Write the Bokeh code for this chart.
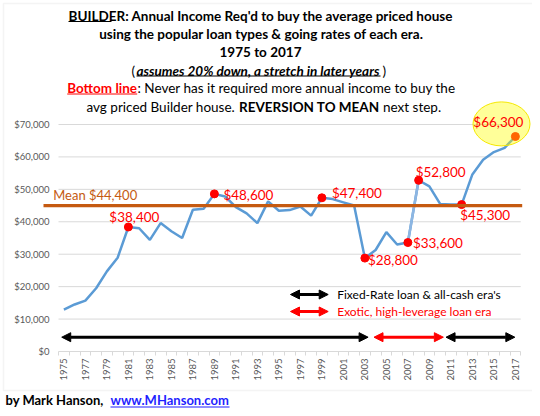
import numpy as np
from bokeh.plotting import figure
from bokeh.models import (Label, FixedTicker, NumeralTickFormatter, Arrow,
                          NormalHead, BoxAnnotation)
from bokeh.embed import file_html
from bokeh.resources import INLINE

# ---------------- data ----------------
years = list(range(1975, 2018))
income = [12900, 14500, 15700, 19500, 24700, 28900, 38400, 38000, 34400, 39600,
          37100, 35000, 43700, 44000, 48600, 47800, 44500, 42600, 39600, 46300,
          43400, 43600, 44700, 41900, 47400, 47000, 46000, 45000, 28800, 31300,
          36800, 33000, 33600, 52800, 50900, 45500, 45300, 45300, 54600, 59100,
          61500, 62800, 66300]
hl_years = [1981, 1989, 1999, 2003, 2007, 2008, 2012, 2017]
hl_labels = ["$38,400", "$48,600", "$47,400", "$28,800", "$33,600", "$52,800",
             "$45,300", "$66,300"]
mean_level = 45000
mean_text = "Mean $44,400"
y_ticks = [0, 10000, 20000, 30000, 40000, 50000, 60000, 70000]
x_label_years = years[::2]
eras = [(1974.8, 2003.3, "black"), (2003.85, 2010.3, "red"), (2010.55, 2016.95, "black")]

# ---------------- layout helpers (canvas px -> data) ----------------
W, H = 532, 408
PX_YEAR = 10.75          # px per category
PX_10K = 32.43           # px per $10,000
PLOT_L = 58              # px of left edge of plot area (1974.5)
ZERO_Y = 351             # px of $0
X0 = (years[0] - 0.5) - PLOT_L / PX_YEAR
X1 = X0 + W / PX_YEAR
Y0 = -(H - ZERO_Y) * 10000 / PX_10K
Y1 = ZERO_Y * 10000 / PX_10K
ux = 1 / PX_YEAR
uy = 10000 / PX_10K


def X(px):
    return X0 + px * ux


def Y(py):
    return Y1 - py * uy


FONT = "Lato"
BLUE = "#5B9BD5"
RED = "#FF0000"
BROWN = "#C55A11"
GRID = "#D9D9D9"

p = figure(width=W, height=H, x_range=(X0, X1), y_range=(Y0, Y1),
           output_backend="svg", toolbar_location=None, title=None,
           min_border_left=0, min_border_right=0, min_border_top=0,
           min_border_bottom=0)
p.outline_line_color = None
p.xgrid.visible = False
p.ygrid.visible = False

# axes (placed inside the canvas at the plot-area edges)
xa = p.xaxis[0]
xa.fixed_location = 0
xa.ticker = FixedTicker(ticks=x_label_years,
                        minor_ticks=[y - 0.5 for y in years] + [years[-1] + 0.5])
xa.bounds = (years[0] - 0.5, years[-1] + 0.5)
xa.axis_line_color = GRID
xa.major_tick_line_color = None
xa.major_tick_out = 4
xa.major_tick_in = 0
xa.minor_tick_line_color = GRID
xa.minor_tick_out = 4
xa.minor_tick_in = 0
xa.major_label_orientation = np.pi / 2
xa.major_label_standoff = 3
xa.major_label_text_font = FONT
xa.major_label_text_font_size = "9.5px"
xa.major_label_text_color = "#595959"

ya = p.yaxis[0]
ya.fixed_location = years[0] - 0.5
ya.ticker = FixedTicker(ticks=y_ticks)
ya.formatter = NumeralTickFormatter(format="$0,0")
ya.axis_line_color = None
ya.major_tick_line_color = None
ya.minor_tick_line_color = None
ya.major_tick_out = 0
ya.major_tick_in = 0
ya.major_label_standoff = 9
ya.major_label_text_font = FONT
ya.major_label_text_font_size = "9.5px"
ya.major_label_text_color = "#595959"

# frame border
p.add_layout(BoxAnnotation(left=X(3), right=X(535), top=Y(3), bottom=Y(390),
                           fill_color=None, line_color=GRID, line_width=1.5))

# grid lines over the plot area only
p.segment(x0=years[0] - 0.5, x1=years[-1] + 0.5, y0=y_ticks[1:], y1=y_ticks[1:],
          line_color=GRID, line_width=1)

# main series
p.line(years, income, line_color=BLUE, line_width=2.5)
i7 = years.index(2007)
p.line(years[i7:i7 + 2], income[i7:i7 + 2], line_color="#8DB6E2", line_width=2.5)

hl_vals = [income[years.index(y)] for y in hl_years]
p.scatter(hl_years, hl_vals, size=8, color=RED)

# highlight ellipse around last point
p.ellipse(x=X(501), y=Y(123.4), width=57 * ux, height=44 * uy,
          fill_color="#FFFF00", fill_alpha=0.4, line_color="#F5E800", line_width=1)

# mean line
p.add_layout(BoxAnnotation(left=X(43), right=X(521.7),
                           bottom=mean_level - 1.6 * uy, top=mean_level + 1.6 * uy,
                           fill_color=BROWN, fill_alpha=1, line_color=None))
p.add_layout(Label(x=X(52.7), y=mean_level, y_offset=11, text=mean_text,
                   text_font=FONT, text_font_size="13px", text_color=BROWN,
                   text_baseline="middle", text_align="left"))

# data labels
offs = {1981: (6, 10, "center"), 1989: (9, -1.5, "left"), 1999: (10, 5, "left"),
        2003: (3, -1.5, "left"), 2007: (5, 0, "left"), 2008: (-3, 8, "left"),
        2012: (-1.5, -10, "left"), 2017: (-17, 14, "center")}
for yr, v, t in zip(hl_years, hl_vals, hl_labels):
    dx, dy, al = offs[yr]
    p.add_layout(Label(x=yr, y=v, x_offset=dx, y_offset=dy, text=t,
                       text_font=FONT, text_font_size="13.5px", text_color=RED,
                       text_baseline="middle", text_align=al))

# era arrows
for (a, b, c) in eras:
    p.add_layout(Arrow(start=NormalHead(size=9, fill_color=c, line_color=c),
                       end=NormalHead(size=9, fill_color=c, line_color=c),
                       x_start=a, y_start=Y(336.7), x_end=b, y_end=Y(336.7),
                       line_color=c, line_width=3))
# legend arrows + text
for py, c, t in [(294, "black", "Fixed-Rate loan & all-cash era's"),
                 (311, "red", "Exotic, high-leverage loan era")]:
    p.add_layout(Arrow(start=NormalHead(size=9, fill_color=c, line_color=c),
                       end=NormalHead(size=9, fill_color=c, line_color=c),
                       x_start=X(290), y_start=Y(py), x_end=X(327.7), y_end=Y(py),
                       line_color=c, line_width=3))
    p.add_layout(Label(x=X(336.7), y=Y(py), text=t, text_font=FONT,
                       text_font_size="12px", text_color=c,
                       text_baseline="middle", text_align="left"))


# ---------------- title block ----------------
def lab(px, py, t, size="13.5px", style="bold", color="black", align="left"):
    p.add_layout(Label(x=X(px), y=Y(py), text=t, text_font=FONT,
                       text_font_size=size, text_font_style=style,
                       text_color=color, text_baseline="middle", text_align=align))


def uline(px0, px1, py, color="black"):
    p.segment(x0=X(px0), x1=X(px1), y0=Y(py), y1=Y(py), line_color=color,
              line_width=1)


lab(68, 15.3, "BUILDER: Annual Income Req'd to buy the average priced house")
uline(68, 111, 21)
lab(260.8, 33.3, "using the popular loan types & going rates of each era.", align="center")
lab(260, 51.7, "1975 to 2017", align="center")
lab(131, 70, "(", style="normal")
lab(136, 70, "assumes 20% down, a stretch in later years", style="bold italic")
uline(136, 380, 75.5)
lab(382, 70, ")", style="normal")
lab(66.7, 87.7, "Bottom line", color=RED)
uline(66.7, 136.7, 93.5, RED)
lab(137, 87.7, ":  Never has it required more annual income to buy the", style="normal")
lab(86, 106, "avg priced Builder house.", style="normal")
lab(238.5, 106, "REVERSION TO MEAN")
lab(382.5, 106, "next step.", style="normal")

# footer
lab(5, 399.5, "by Mark Hanson,", size="13px")
lab(110, 399.5, "www.MHanson.com", size="13px", color="#1F1FFF")
uline(110, 229, 406.5, "#1F1FFF")

open("out.html", "w").write(file_html(p, INLINE))
